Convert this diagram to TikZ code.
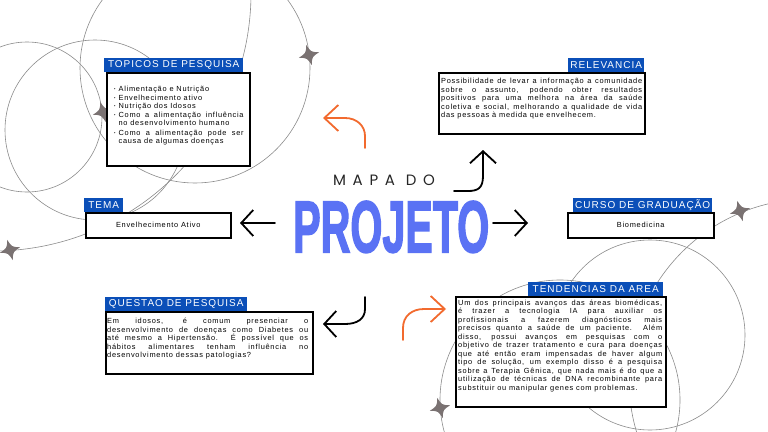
\documentclass[tikz,border=0pt]{standalone}
\usepackage{fontspec}
\setmainfont{Liberation Sans}
\usetikzlibrary{arrows.meta}
\newfontfamily\bodyf[LetterSpace=10]{Liberation Sans}
\newfontfamily\lblf[LetterSpace=10]{Liberation Sans}
\newfontfamily\mapf[LetterSpace=45]{Poppins}
\newfontfamily\projf[FakeBold=2.5]{Liberation Sans}
\definecolor{lblue}{HTML}{0B4FB8}
\definecolor{pblue}{HTML}{5A72F4}
\definecolor{orng}{HTML}{F26A2E}
\definecolor{circ}{HTML}{8C8C8C}
\definecolor{starc}{HTML}{7A7272}
\newcommand\bodysize{\fontsize{7.4}{8.5}\selectfont}
\newcommand\jl[2]{\makebox[#1][s]{#2}}
\newcommand\bul{\raisebox{0.6pt}{\fontsize{4}{4}\selectfont\textbullet}\hspace{3pt}}
\newcommand\spark[3]{\fill[starc,shift={(#1,#2)},rotate=#3] (0,-10.5) .. controls (2.5,-2.5) .. (10.5,0) .. controls (2.5,2.5) .. (0,10.5) .. controls (-2.5,2.5) .. (-10.5,0) .. controls (-2.5,-2.5) .. cycle;}
\tikzset{
  deco/.style={draw=circ,line width=0.6pt},
  bx/.style={draw=black,line width=1.5pt,fill=white,inner sep=0pt,anchor=north west},
  lbl/.style={fill=lblue,text=white,inner sep=0pt,anchor=south west,minimum height=14pt,font=\lblf\fontsize{10}{11}\selectfont},
  btxt/.style={inner sep=0pt,anchor=north west,align=left,font=\bodyf\bodysize},
  blkarr/.style={draw=black,line width=1.8pt,line cap=round,line join=round,-{Straight Barb[length=12pt,width=26pt,line width=1.8pt]}},
  orarr/.style={draw=orng,line width=1.8pt,line cap=round,line join=round,-{Straight Barb[length=14pt,width=26pt,line width=1.8pt]}},
}
\begin{document}
\begin{tikzpicture}[x=1pt,y=-1pt]
\useasboundingbox[fill=white] (0,0) rectangle (768,431);
% decorative circles
\draw[deco] (195,68) circle (115);
\draw[deco] (27,117) circle (75);
\draw[deco] (95,130) circle (90);
\draw[deco] (-7,-7) circle (258);
\draw[deco] (650,335) circle (95);
\draw[deco] (810,380) circle (181);
\draw[deco] (560,400) circle (120);
% stars
\spark{309}{55}{15}
\spark{103}{112}{15}
\spark{10}{250}{15}
\spark{740}{211}{15}
\spark{440}{408}{15}
% titles
\node[inner sep=0pt,text=black!85,font=\mapf\fontsize{15}{16}\selectfont] (mapa) at (384,180) {MAPA DO};
\node[inner sep=0pt,anchor=south west,text=pblue] (proj) at (293,253) {\resizebox{196pt}{51pt}{\projf\bfseries PROJETO}};
% boxes
\node[bx,minimum width=143pt,minimum height=93pt] (top) at (106,72) {};
\node[lbl,minimum width=139pt] (topl) at (104,72) {TOPICOS DE PESQUISA};
\node[bx,minimum width=206pt,minimum height=61pt] (rel) at (438,72) {};
\node[lbl,minimum width=76pt] (rell) at (568,72) {RELEVANCIA};
\node[bx,minimum width=145pt,minimum height=25pt] (tema) at (85,212) {};
\node[lbl,minimum width=39pt] (temal) at (84,212) {TEMA};
\node[bx,minimum width=146pt,minimum height=25pt] (curso) at (567,212) {};
\node[lbl,minimum width=139pt] (cursol) at (573,212) {CURSO DE GRADUAÇÃO};
\node[bx,minimum width=207pt,minimum height=62pt] (quest) at (105,311) {};
\node[lbl,minimum width=142pt] (questl) at (105,311) {QUESTAO DE PESQUISA};
\node[bx,minimum width=210pt,minimum height=110pt] (tend) at (455,296) {};
\node[lbl,minimum width=135pt] (tendl) at (528,296) {TENDENCIAS DA AREA};
% texts
\node[btxt] (topt) at (114,86) {%
\bul Alimentação e Nutrição\\
\bul Envelhecimento ativo\\
\bul Nutrição dos Idosos\\
\bul \jl{125pt}{Como a alimentação influência}\\
\hphantom{\bul}no desenvolvimento humano\\[1pt]
\bul \jl{125pt}{Como a alimentação pode ser}\\
\hphantom{\bul}causa de algumas doenças};
\node[btxt] (relt) at (441,78) {%
\jl{201pt}{Possibilidade de levar a informação a comunidade}\\
\jl{201pt}{sobre o assunto, podendo obter resultados}\\
\jl{201pt}{positivos para uma melhora na área da saúde}\\
\jl{201pt}{coletiva e social, melhorando a qualidade de vida}\\
das pessoas à medida que envelhecem.};
\node[inner sep=0pt,font=\bodyf\bodysize] (temat) at (tema.center) {Envelhecimento Ativo};
\node[inner sep=0pt,font=\bodyf\bodysize] (cursot) at (curso.center) {Biomedicina};
\node[btxt] (questt) at (107,318) {%
\jl{201pt}{Em idosos, é comum presenciar o}\\
\jl{201pt}{desenvolvimento de doenças como Diabetes ou}\\
\jl{201pt}{até mesmo a Hipertensão. É possível que os}\\
\jl{201pt}{hábitos alimentares tenham influência no}\\
desenvolvimento dessas patologias?};
\node[btxt] (tendt) at (458,299.5) {%
\jl{204pt}{Um dos principais avanços das áreas biomédicas,}\\
\jl{204pt}{é trazer a tecnologia IA para auxiliar os}\\
\jl{204pt}{profissionais a fazerem diagnósticos mais}\\
\jl{204pt}{precisos quanto a saúde de um paciente. Além}\\
\jl{204pt}{disso, possui avanços em pesquisas com o}\\
\jl{204pt}{objetivo de trazer tratamento e cura para doenças}\\
\jl{204pt}{que até então eram impensadas de haver algum}\\
\jl{204pt}{tipo de solução, um exemplo disso é a pesquisa}\\
\jl{204pt}{sobre a Terapia Gênica, que nada mais é do que a}\\
\jl{204pt}{utilização de técnicas de DNA recombinante para}\\
substituir ou manipular genes com problemas.};
% arrows
\coordinate (la1) at (275,223); \coordinate (la2) at (240,223);
\coordinate (ra1) at (493,223); \coordinate (ra2) at (528,223);
\coordinate (ua1) at (454,191); \coordinate (ua2) at (483,150);
\coordinate (oa1) at (365,148); \coordinate (oa2) at (323,118);
\coordinate (da1) at (365,297); \coordinate (da2) at (323,324);
\coordinate (ob1) at (403,340); \coordinate (ob2) at (446,309);
\draw[blkarr] (la1) -- (la2);
\draw[blkarr] (ra1) -- (ra2);
\draw[blkarr] (ua1) -- ++(14,0) .. controls ++(10,0) and ++(0,12) .. ([yshift=15]ua2|-ua1) -- (ua2);
\draw[orarr] (oa1) -- ++(0,-12) .. controls ++(0,-10) and ++(12,0) .. ([xshift=22]oa2) -- (oa2);
\draw[blkarr] (da1) -- ++(0,12) .. controls ++(0,10) and ++(12,0) .. ([xshift=22]da2) -- (da2);
\draw[orarr] (ob1) -- ++(0,-12) .. controls ++(0,-12) and ++(-12,0) .. ([xshift=-22]ob2) -- (ob2);
\end{tikzpicture}
\end{document}
